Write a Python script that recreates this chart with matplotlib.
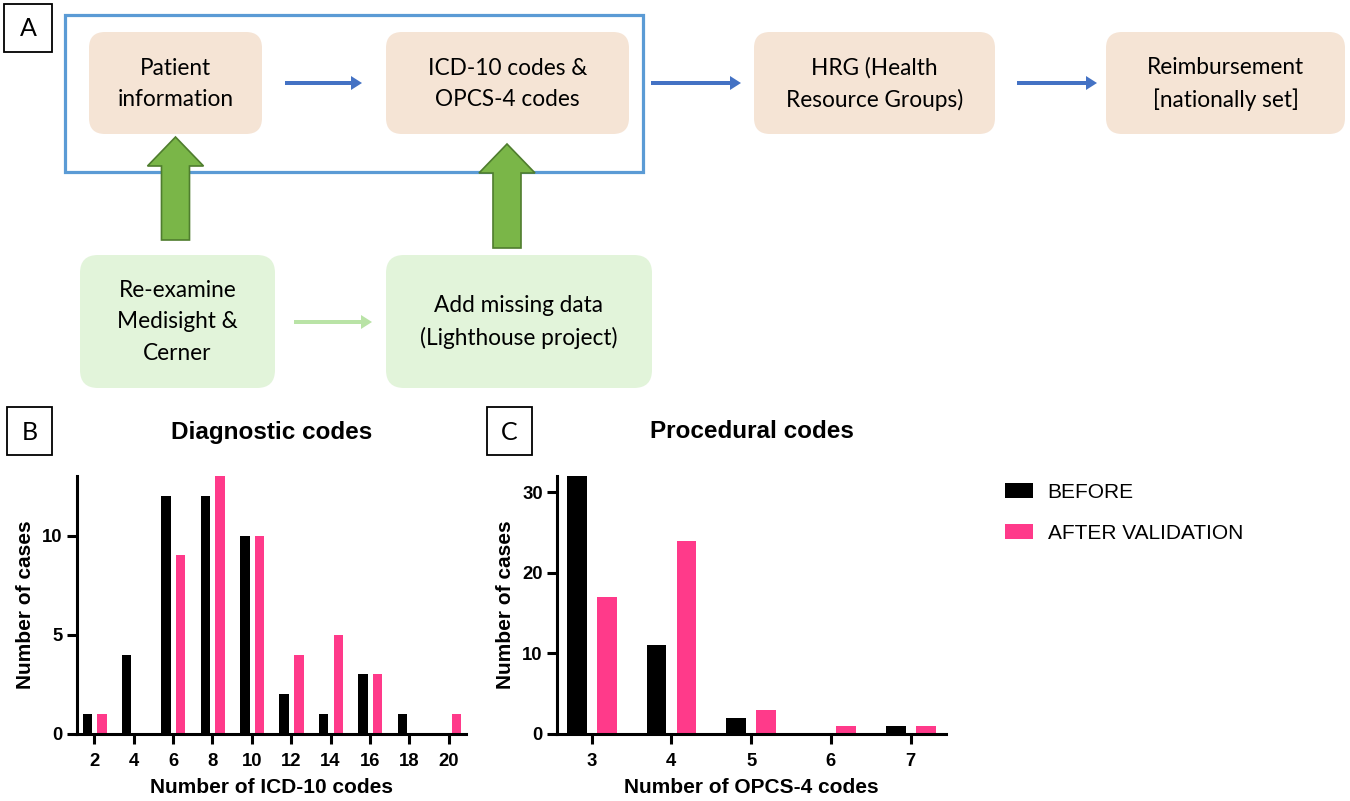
import matplotlib
matplotlib.use("Agg")
import matplotlib.pyplot as plt
import matplotlib.patches as mpatches
import numpy as np

# ---------------- data ----------------
diag_codes = [2, 4, 6, 8, 10, 12, 14, 16, 18, 20]
diag_before = [1, 4, 12, 12, 10, 2, 1, 3, 1, 0]
diag_after = [1, 0, 9, 13, 10, 4, 5, 3, 0, 1]

proc_codes = [3, 4, 5, 6, 7]
proc_before = [32, 11, 2, 0, 1]
proc_after = [17, 24, 3, 1, 1]

series_labels = ["BEFORE", "AFTER VALIDATION"]
flow_top = ["Patient\ninformation", "ICD-10 codes &\nOPCS-4 codes",
            "HRG (Health\nResource Groups)", "Reimbursement\n[nationally set]"]
flow_bottom = ["Re-examine\nMedisight &\nCerner", "Add missing data\n(Lighthouse project)"]
panel_letters = ["A", "B", "C"]
titles = ["Diagnostic codes", "Procedural codes"]
xlabels = ["Number of ICD-10 codes", "Number of OPCS-4 codes"]
ylabel = "Number of cases"

BLACK = "#000000"
PINK = "#FF3A8A"
TAN = "#F5E4D5"
LGREEN = "#E2F4DA"
BLUE_RECT = "#5B9BD5"
BLUE_ARROW = "#4472C4"
GREEN_ARROW = "#7AB648"
GREEN_EDGE = "#4F7D2E"
LIGHT_ARROW = "#B9E3A6"

W, H = 1350, 801
fig = plt.figure(figsize=(W / 100, H / 100), dpi=100)

# ---------------- panel A (diagram, pixel coordinates) ----------------
ov = fig.add_axes([0, 0, 1, 1])
ov.set_xlim(0, W)
ov.set_ylim(H, 0)
ov.axis("off")
ov.patch.set_alpha(0)

diag_font = "Lato"

# blue rectangle
ov.add_patch(mpatches.Rectangle((65, 15), 643 - 65, 172 - 15, fill=False,
                                edgecolor=BLUE_RECT, lw=2.3, zorder=1))

top_boxes = [(89, 262), (386, 629), (754, 995), (1106, 1345)]
for (x0, x1), txt in zip(top_boxes, flow_top):
    ov.add_patch(mpatches.FancyBboxPatch((x0, 32), x1 - x0, 102,
                                         boxstyle="round,pad=0,rounding_size=16",
                                         facecolor=TAN, edgecolor="none", zorder=2))
    ov.text((x0 + x1) / 2, 84, txt, ha="center", va="center", fontsize=16.3,
            family=diag_font, linespacing=1.6, zorder=3)

bot_boxes = [(80, 275), (386, 652)]
for (x0, x1), txt in zip(bot_boxes, flow_bottom):
    ov.add_patch(mpatches.FancyBboxPatch((x0, 255), x1 - x0, 133,
                                         boxstyle="round,pad=0,rounding_size=18",
                                         facecolor=LGREEN, edgecolor="none", zorder=2))
    ov.text((x0 + x1) / 2, 322, txt, ha="center", va="center", fontsize=16.3,
            family=diag_font, linespacing=1.6, zorder=3)

# blue arrows
for x0, x1 in [(285, 362), (651, 741), (1017, 1097)]:
    ov.add_patch(mpatches.FancyArrow(x0, 83, x1 - x0, 0, width=4, head_width=14,
                                     head_length=11, length_includes_head=True,
                                     color=BLUE_ARROW, lw=0, zorder=3))
# light green arrow
ov.add_patch(mpatches.FancyArrow(294, 322, 372 - 294, 0, width=4, head_width=14,
                                 head_length=11, length_includes_head=True,
                                 color=LIGHT_ARROW, lw=0, zorder=3))

# green block arrows
def up_arrow(cx, bottom, head_base, tip, shaft_w=28, head_w=56):
    pts = [(cx - shaft_w / 2, bottom), (cx - shaft_w / 2, head_base),
           (cx - head_w / 2, head_base), (cx, tip), (cx + head_w / 2, head_base),
           (cx + shaft_w / 2, head_base), (cx + shaft_w / 2, bottom)]
    ov.add_patch(mpatches.Polygon(pts, closed=True, facecolor=GREEN_ARROW,
                                  edgecolor=GREEN_EDGE, lw=1.2, zorder=4))

up_arrow(175.5, 240, 166, 137)
up_arrow(507, 248, 173, 144)

# panel letter boxes
letter_boxes = [(4, 4, 48, 48), (7, 407, 45, 48), (487, 407, 45, 48)]
for (x, y, w, h), letter in zip(letter_boxes, panel_letters):
    ov.add_patch(mpatches.Rectangle((x, y), w, h, fill=False, edgecolor="black",
                                    lw=1.3, zorder=3))
    ov.text(x + w / 2, y + h / 2 + 1, letter, ha="center", va="center",
            fontsize=18, family=diag_font, zorder=4)

# ---------------- bar charts ----------------
bar_font = "Liberation Sans"

def px_axes(left, right, top, bottom):
    return fig.add_axes([left / W, 1 - bottom / H, (right - left) / W, (bottom - top) / H])

def style(ax, title, xlabel):
    for s in ["top", "right"]:
        ax.spines[s].set_visible(False)
    for s in ["left", "bottom"]:
        ax.spines[s].set_linewidth(2.2)
    ax.tick_params(axis="both", width=2.2, length=7.5, labelsize=13.3,
                   direction="out")
    ax.tick_params(axis="x", pad=6)
    ax.tick_params(axis="y", pad=3)
    for lab in ax.get_xticklabels() + ax.get_yticklabels():
        lab.set_fontweight("bold")
        lab.set_family(bar_font)
    ax.set_xlabel(xlabel, fontsize=15, fontweight="bold", family=bar_font, labelpad=6)
    ax.set_ylabel(ylabel, fontsize=15, fontweight="bold", family=bar_font, labelpad=5)
    ax.set_title(title, fontsize=17.5, fontweight="bold", family=bar_font, pad=27)
    ax.patch.set_alpha(0)

# panel B
axB = px_axes(77.3, 465.7, 476, 734)
xb = np.array(diag_codes, dtype=float)
axB.bar(xb - 0.355, diag_before, width=0.48, color=BLACK, label=series_labels[0])
axB.bar(xb + 0.39, diag_after, width=0.48, color=PINK, label=series_labels[1])
axB.set_xlim(1.14, 20.86)
axB.set_ylim(0, 13)
axB.set_xticks(diag_codes)
axB.set_yticks([0, 5, 10])
style(axB, titles[0], xlabels[0])

# panel C
axC = px_axes(557.3, 945.7, 476, 734)
xc = np.array(proc_codes, dtype=float)
hb = axC.bar(xc - 0.186, proc_before, width=0.245, color=BLACK, label=series_labels[0])
ha = axC.bar(xc + 0.19, proc_after, width=0.245, color=PINK, label=series_labels[1])
axC.set_xlim(2.57, 7.44)
axC.set_ylim(0, 32)
axC.set_xticks(proc_codes)
axC.set_yticks([0, 10, 20, 30])
style(axC, titles[1], xlabels[1])

leg = axC.legend(handles=[hb, ha], labels=series_labels, loc="upper left",
                 bbox_to_anchor=(1005 / W, 1 - 483 / H), bbox_transform=fig.transFigure,
                 frameon=False, prop={"family": bar_font, "size": 15},
                 handlelength=1.35, handleheight=0.7, handletextpad=0.7,
                 labelspacing=1.05, borderpad=0, borderaxespad=0)

fig.savefig("out.png", dpi=100)
